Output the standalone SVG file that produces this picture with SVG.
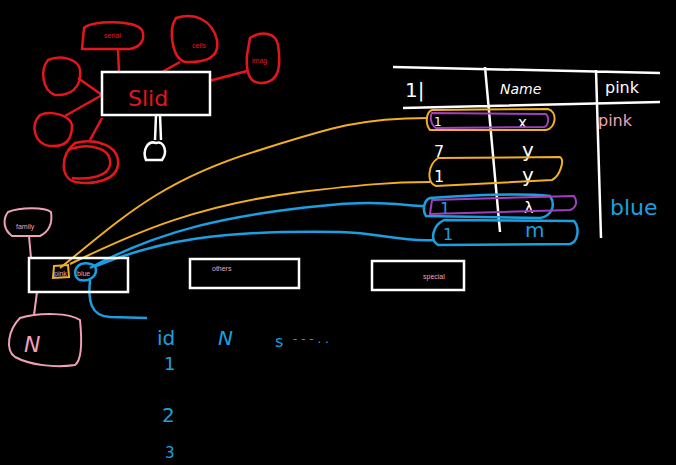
<svg xmlns="http://www.w3.org/2000/svg" width="676" height="465" viewBox="0 0 676 465">
<style>
.r{fill:none;stroke:#e4161c;stroke-width:2.5;stroke-linejoin:round}
.w{fill:none;stroke:#fff;stroke-width:2.5}
.y{fill:none;stroke:#f0b020;stroke-width:2}
.b{fill:none;stroke:#1aa0e0;stroke-width:2.5}
.p{fill:none;stroke:#a040c0;stroke-width:2}
.k{fill:none;stroke:#f0a0b8;stroke-width:2}
.sm{font-family:"Liberation Sans",sans-serif;font-size:7px}
.hw{font-family:"DejaVu Sans",sans-serif}
</style>
<rect width="676" height="465" fill="#000"/>
<g id="connectors">
<path class="r" d="M118 50 L119 72 M180 62 L162 72 M247 71 L209 81 M78 78 L102 95 M65 116 L102 95 M90 140 L102 118"/>
<path class="w" d="M156 115 L155 140 M160 115 L161 140"/>
<path class="y" d="M60 268 C120 220 160 180 260 150 C330 128 360 118 428 118"/>
<path class="y" d="M70 264 C140 230 200 205 300 192 C360 185 390 182 430 182"/>
<path class="b" d="M90 268 C160 230 230 215 320 206 C370 200 400 205 424 206"/>
<path class="b" d="M96 266 C160 240 220 230 340 232 C380 233 400 242 434 240"/>
<path class="b" d="M90 280 C88 300 90 316 110 317 L147 318"/>
<path class="k" d="M29 236 L31 258 M37 292 L34 315"/>
</g>
<g id="slid">
<rect x="102" y="72" width="108" height="43" class="w"/>
<text x="128" y="106" fill="#e4161c" font-size="22" class="hw">Slid</text>
</g>
<g id="key"><path class="w" d="M146 160 C142 150 148 140 156 143 C164 140 168 152 162 160 Z"/></g>
<g id="serial"><path class="r" d="M84 28 C92 20 135 20 142 30 C146 40 140 47 130 49 L82 49 Z"/><text x="104" y="38" fill="#e4161c" class="sm">serial</text></g>
<g id="cells"><path class="r" d="M176 18 C195 12 212 20 217 40 C220 58 205 63 185 62 C172 58 168 30 176 18 Z"/><text x="192" y="48" fill="#e4161c" class="sm">cells</text></g>
<g id="imag"><path class="r" d="M250 38 C262 30 276 33 278 45 C281 65 280 82 262 83 C248 84 246 70 247 55 Z"/><text x="252" y="63" fill="#e4161c" class="sm">imag</text></g>
<g id="blob1"><path class="r" d="M48 60 C60 55 78 58 80 70 C82 88 70 96 55 95 C42 90 40 70 48 60 Z"/></g>
<g id="blob2"><path class="r" d="M40 115 C50 110 70 115 72 125 C72 140 66 147 50 146 C34 144 30 125 40 115 Z"/></g>
<g id="blob3"><path class="r" d="M75 143 C95 138 120 145 118 165 C116 180 95 185 75 182 C60 178 60 155 75 143 Z"/><path class="r" d="M68 150 C90 142 112 148 110 165 C108 176 90 180 72 178"/></g>
<g id="table">
<path class="w" d="M393 67 L660 73 M403 108 L660 102 M485 67 C490 120 495 180 500 232 M596 70 L601 238"/>
<text x="405" y="97" fill="#fff" font-size="20" class="hw">1|</text>
<text x="500" y="94" fill="#fff" font-size="14" class="hw" font-style="italic">Name</text>
<text x="605" y="93" fill="#fff" font-size="16" class="hw">pink</text>
<text x="598" y="126" fill="#f0a0b8" font-size="16" class="hw">pink</text>
<text x="610" y="215" fill="#1aa0e0" font-size="22" class="hw">blue</text>
<text x="434" y="126" fill="#fff" font-size="12" class="hw">1</text>
<text x="518" y="128" fill="#fff" font-size="15" class="hw">x</text>
<text x="434" y="157" fill="#fff" font-size="16" class="hw">7</text>
<text x="522" y="157" fill="#fff" font-size="20" class="hw">y</text>
<text x="434" y="182" fill="#fff" font-size="16" class="hw">1</text>
<text x="522" y="182" fill="#fff" font-size="20" class="hw">y</text>
<text x="440" y="214" fill="#1aa0e0" font-size="16" class="hw">1</text>
<text x="524" y="213" fill="#fff" font-size="16" class="hw">λ</text>
<text x="443" y="240" fill="#1aa0e0" font-size="16" class="hw">1</text>
<text x="525" y="237" fill="#1aa0e0" font-size="20" class="hw">m</text>
<path class="y" d="M432 110 L548 109 C558 112 556 128 546 130 L430 130 C425 124 426 112 432 110 Z"/>
<path class="p" d="M432 113 L546 114 C550 118 548 126 544 127 L436 128 C430 124 430 116 432 113 Z"/>
<path class="y" d="M438 158 L560 157 C565 160 560 176 552 180 L436 186 C426 182 428 165 438 158 Z"/>
<path class="b" d="M430 198 C460 196 520 193 550 196 C556 205 552 216 540 218 L426 216 C422 210 424 200 430 198 Z"/>
<path class="p" d="M432 200 L574 196 C578 202 576 208 570 210 L430 214 Z"/>
<path class="b" d="M444 220 L574 221 C580 228 578 242 570 244 L438 245 C430 240 432 226 444 220 Z"/>
</g>
<g id="family"><path class="k" d="M8 212 C20 207 45 207 51 212 C53 225 48 232 40 236 L12 236 C4 230 2 220 8 212 Z"/><text x="16" y="229" fill="#f0a0b8" class="sm">family</text></g>
<g id="n"><path class="k" d="M20 318 C40 312 70 313 80 320 C82 340 82 360 75 365 C55 368 30 365 15 357 C5 350 8 330 20 318 Z"/><text x="24" y="352" fill="#f0a0b8" font-size="22" class="hw" font-style="italic">N</text></g>
<g id="main">
<rect x="29" y="258" width="99" height="34" class="w"/>
<path class="y" d="M54 266 L68 265 L69 277 L53 278 Z"/>
<path class="b" d="M78 266 C82 262 96 262 96 270 C96 276 90 282 80 280 C74 278 74 270 78 266 Z"/>
<text x="54" y="276" fill="#f0a0b8" class="sm">pink</text>
<text x="77" y="276" fill="#f0a0b8" class="sm">blue</text>
</g>
<g id="others"><rect x="190" y="259" width="109" height="29" class="w"/><text x="212" y="271" fill="#f0a0b8" class="sm">others</text></g>
<g id="special"><rect x="372" y="261" width="92" height="29" class="w"/><text x="423" y="279" fill="#f0a0b8" class="sm">special</text></g>
<g id="bottom" fill="#1aa0e0" class="hw">
<text x="157" y="345" font-size="20">id</text>
<text x="218" y="345" font-size="20" font-style="italic">N</text>
<text x="275" y="347" font-size="16">s</text>
<text x="293" y="343" font-size="12">-  -  -  .  .</text>
<text x="164" y="370" font-size="18">1</text>
<text x="162" y="422" font-size="20">2</text>
<text x="165" y="458" font-size="15">3</text>
</g>
</svg>
